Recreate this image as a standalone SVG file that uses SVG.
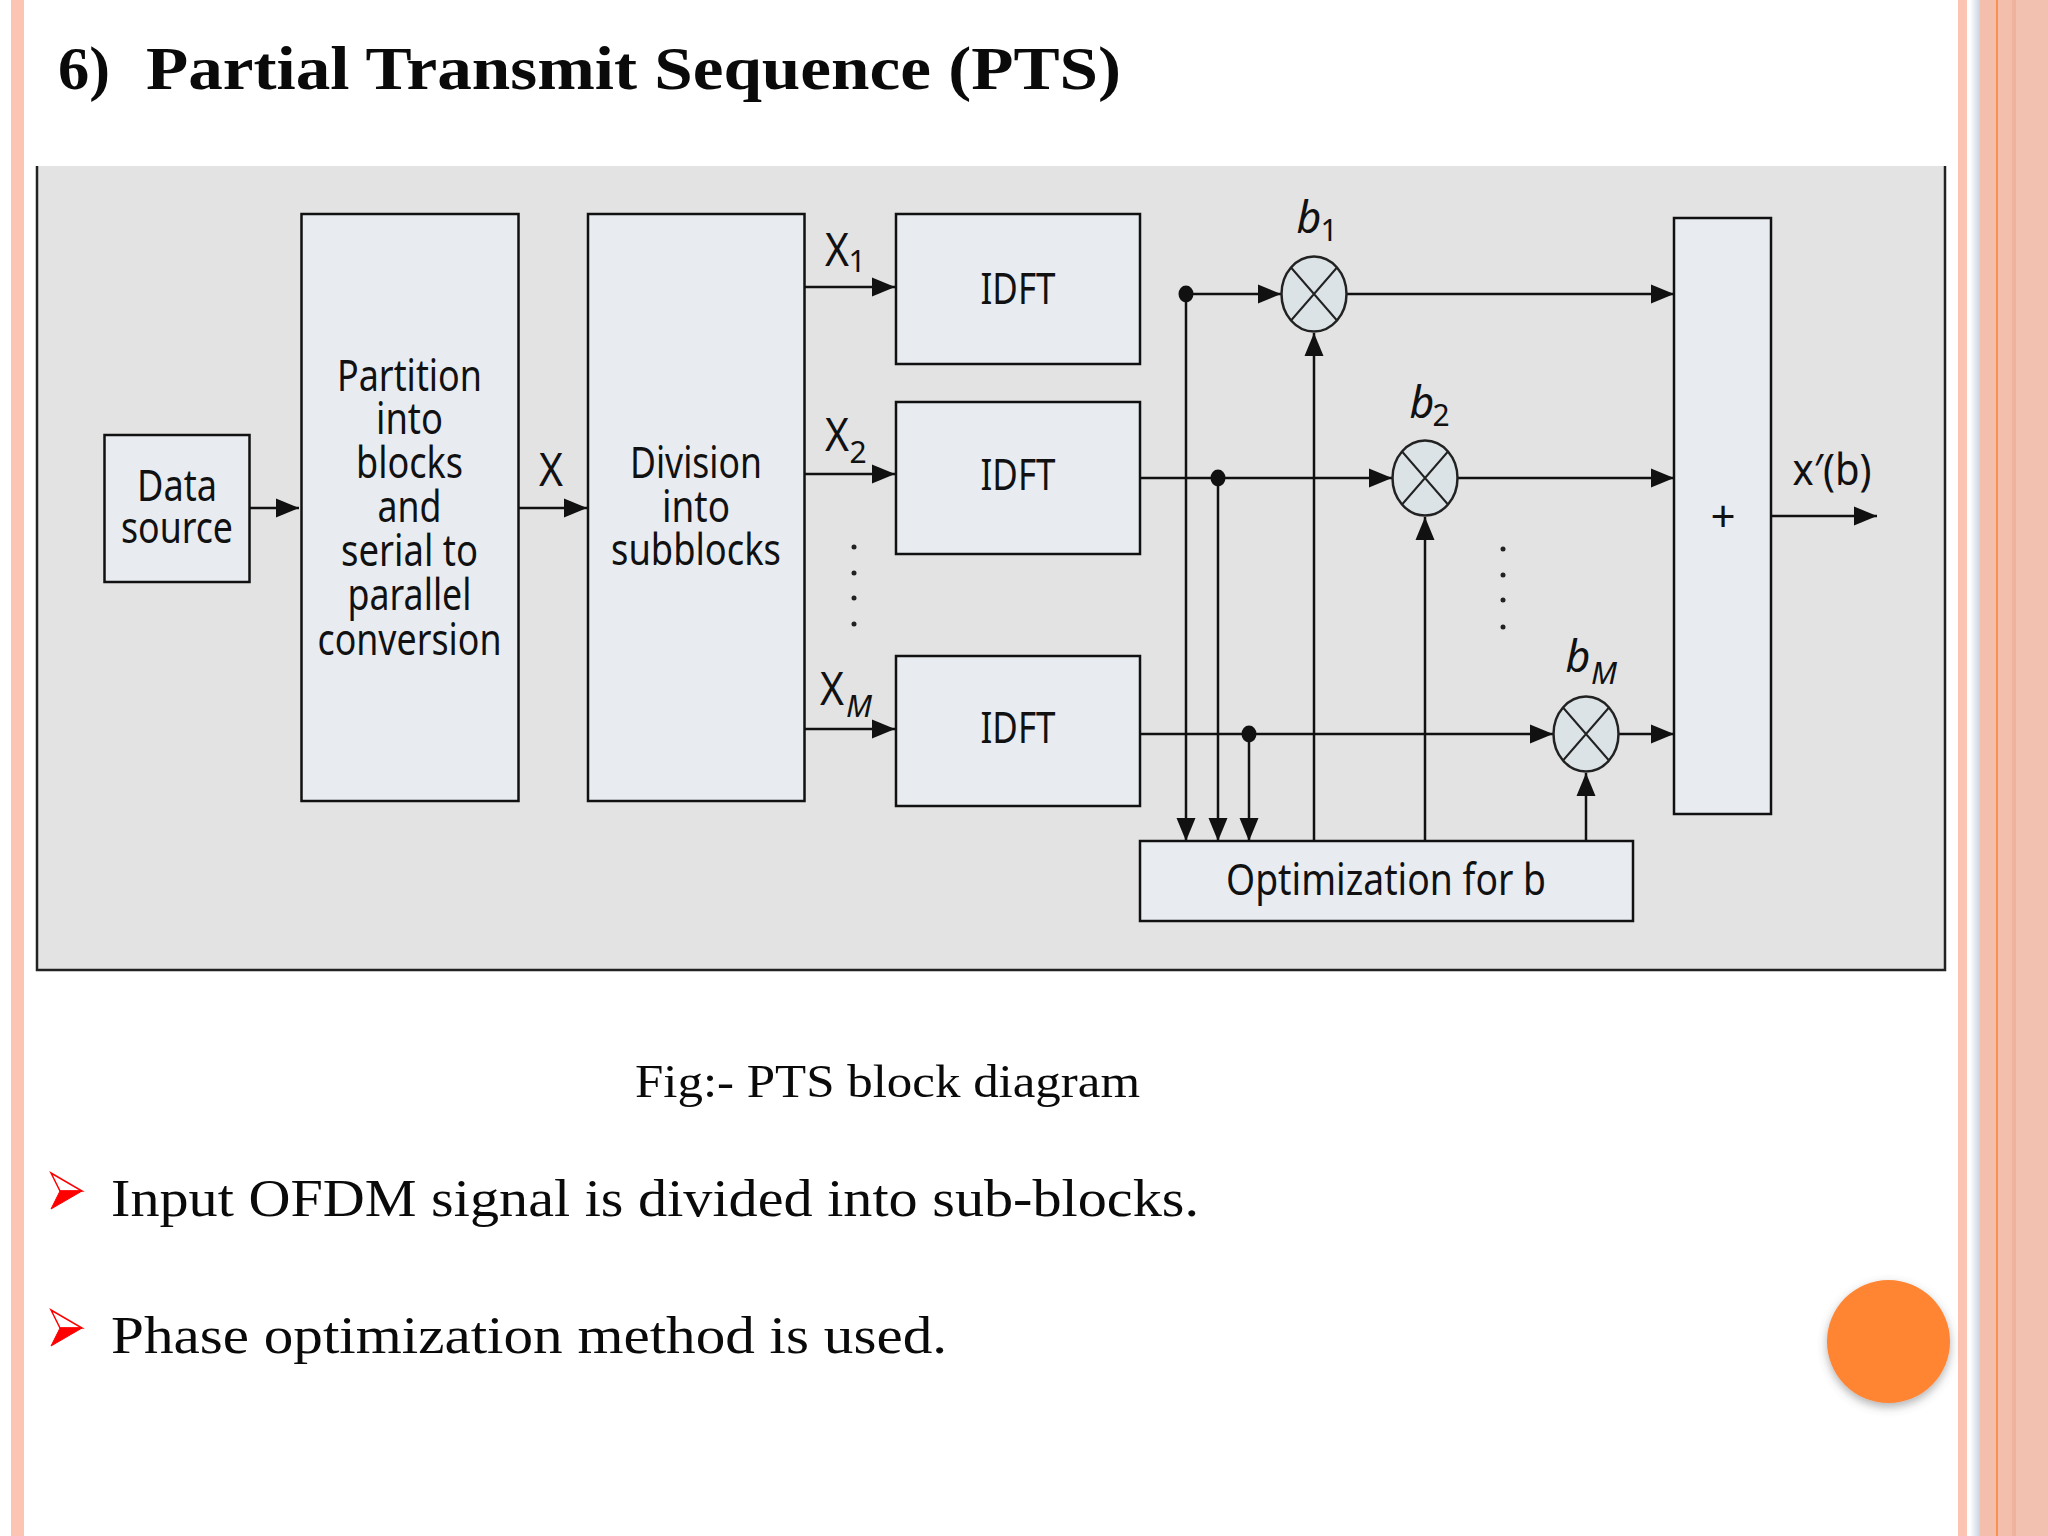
<svg xmlns="http://www.w3.org/2000/svg" width="2048" height="1536" viewBox="0 0 2048 1536">
<style>
.box{fill:#e8ecf1;stroke:#111;stroke-width:2.5}
.lbl{font-family:"Noto Sans","Liberation Sans",sans-serif;font-size:43px;fill:#111;text-anchor:middle}
.it{font-style:italic}
.sub{font-size:30px}
.ser{font-family:"Liberation Serif",serif;fill:#0a0a0a}
.ln{fill:none;stroke:#111;stroke-width:2.5}
.arr{marker-end:url(#ah)}
.mul{fill:#dbe3e6;stroke:#222;stroke-width:2.5}
.x{stroke:#222;stroke-width:2;fill:none}
</style>
<defs>
<marker id="ah" markerUnits="userSpaceOnUse" markerWidth="24" markerHeight="22" refX="23" refY="11" orient="auto"><path d="M0 1.5L23 11L0 20.5Z" fill="#111"/></marker>
<filter id="sh" x="-20%" y="-20%" width="140%" height="140%"><feDropShadow dx="0" dy="4" stdDeviation="5" flood-color="#555" flood-opacity=".45"/></filter>
<linearGradient id="edge" x1="0" x2="1" y1="0" y2="0"><stop offset="0" stop-color="#fff"/><stop offset="1" stop-color="#c9d3e2"/></linearGradient>
</defs>
<rect width="2048" height="1536" fill="#fff"/>
<g id="frame">
<rect x="11" y="0" width="13" height="1536" fill="#fcc4b3"/>
<rect x="1958" y="0" width="9" height="1536" fill="#fcc4b3"/>
<rect x="1970" y="0" width="10" height="1536" fill="url(#edge)"/>
<rect x="1980" y="0" width="68" height="1536" fill="#f3bfac"/>
<rect x="1996" y="0" width="2" height="1536" fill="#fb8f4e"/>
<rect x="2012" y="0" width="4" height="1536" fill="#efb29c"/>
<rect x="2016" y="0" width="32" height="1536" fill="#f2c1b0"/>
</g>
<g id="title" class="ser" font-weight="700" font-size="62">
<text x="58" y="89" textLength="52" lengthAdjust="spacingAndGlyphs">6)</text>
<text x="146" y="89" textLength="975" lengthAdjust="spacingAndGlyphs">Partial Transmit Sequence (PTS)</text>
</g>
<rect id="panel" x="37" y="166" width="1908" height="804" fill="#e3e3e3"/>
<path d="M37 166V970H1945V166" fill="none" stroke="#222" stroke-width="2.5"/>
<g id="connectors">
<path class="ln arr" d="M249 508H299"/>
<path class="ln arr" d="M518 508H587"/>
<path class="ln arr" d="M804 287H895"/>
<path class="ln arr" d="M804 474H895"/>
<path class="ln arr" d="M804 729H895"/>
<path class="ln arr" d="M1186 294H1281"/>
<path class="ln arr" d="M1347 294H1674"/>
<path class="ln arr" d="M1140 478H1392"/>
<path class="ln arr" d="M1458 478H1674"/>
<path class="ln arr" d="M1140 734H1553"/>
<path class="ln arr" d="M1619 734H1674"/>
<path class="ln arr" d="M1771 516H1877"/>
<path class="ln arr" d="M1186 294V841"/>
<path class="ln arr" d="M1218 478V841"/>
<path class="ln arr" d="M1249 734V841"/>
<path class="ln arr" d="M1314 841V333"/>
<path class="ln arr" d="M1425 841V517"/>
<path class="ln arr" d="M1586 841V773"/>
<ellipse cx="1186" cy="294" rx="7.5" ry="8.5" fill="#111"/>
<ellipse cx="1218" cy="478" rx="7.5" ry="8.5" fill="#111"/>
<ellipse cx="1249" cy="734" rx="7.5" ry="8.5" fill="#111"/>
</g>
<g id="data-source"><rect class="box" x="104.500" y="435" width="145" height="147"/>
<text class="lbl" x="177" y="501" textLength="80" lengthAdjust="spacingAndGlyphs">Data</text>
<text class="lbl" x="177" y="543" textLength="112" lengthAdjust="spacingAndGlyphs">source</text></g>
<g id="partition"><rect class="box" x="301.500" y="214" width="217" height="587"/>
<text class="lbl" x="409.500" y="391" textLength="145" lengthAdjust="spacingAndGlyphs">Partition</text>
<text class="lbl" x="409.500" y="434" textLength="67" lengthAdjust="spacingAndGlyphs">into</text>
<text class="lbl" x="409.500" y="478" textLength="107" lengthAdjust="spacingAndGlyphs">blocks</text>
<text class="lbl" x="409.500" y="522" textLength="64" lengthAdjust="spacingAndGlyphs">and</text>
<text class="lbl" x="409.500" y="566" textLength="137" lengthAdjust="spacingAndGlyphs">serial to</text>
<text class="lbl" x="409.500" y="610" textLength="124" lengthAdjust="spacingAndGlyphs">parallel</text>
<text class="lbl" x="409.500" y="655" textLength="184" lengthAdjust="spacingAndGlyphs">conversion</text></g>
<g id="division"><rect class="box" x="588" y="214" width="216.500" height="587"/>
<text class="lbl" x="696" y="478" textLength="132" lengthAdjust="spacingAndGlyphs">Division</text>
<text class="lbl" x="696" y="522" textLength="68" lengthAdjust="spacingAndGlyphs">into</text>
<text class="lbl" x="696" y="565" textLength="170" lengthAdjust="spacingAndGlyphs">subblocks</text></g>
<g id="idft-1"><rect class="box" x="896" y="214" width="244" height="150"/>
<text class="lbl" x="1018" y="304" textLength="75" lengthAdjust="spacingAndGlyphs">IDFT</text></g>
<g id="idft-2"><rect class="box" x="896" y="402" width="244" height="152"/>
<text class="lbl" x="1018" y="490" textLength="75" lengthAdjust="spacingAndGlyphs">IDFT</text></g>
<g id="idft-m"><rect class="box" x="896" y="656" width="244" height="150"/>
<text class="lbl" x="1018" y="743" textLength="75" lengthAdjust="spacingAndGlyphs">IDFT</text></g>
<g id="mul-1"><ellipse class="mul" cx="1314" cy="294" rx="32.500" ry="37.500"/><path class="x" d="M1291 267.500L1337 320.500M1337 267.500L1291 320.500"/></g>
<g id="mul-2"><ellipse class="mul" cx="1425" cy="478" rx="32.500" ry="37.500"/><path class="x" d="M1402 451.500L1448 504.500M1448 451.500L1402 504.500"/></g>
<g id="mul-m"><ellipse class="mul" cx="1586" cy="734" rx="32.500" ry="37.500"/><path class="x" d="M1563 707.500L1609 760.500M1609 707.500L1563 760.500"/></g>
<g id="sum"><rect class="box" x="1674" y="218" width="97" height="596"/>
<text class="lbl" x="1723" y="532" style="font-size:44px">+</text></g>
<g id="optimization"><rect class="box" x="1140" y="841" width="493" height="80"/>
<text class="lbl" x="1386" y="895" textLength="320" lengthAdjust="spacingAndGlyphs">Optimization for b</text></g>
<g id="labels">
<text class="lbl" x="551" y="486" textLength="24" lengthAdjust="spacingAndGlyphs" style="font-size:46px">X</text>
<text class="lbl" x="837" y="266" textLength="24" lengthAdjust="spacingAndGlyphs" style="font-size:46px">X</text>
<text class="lbl sub" x="857" y="272">1</text>
<text class="lbl" x="837" y="451" textLength="24" lengthAdjust="spacingAndGlyphs" style="font-size:46px">X</text>
<text class="lbl sub" x="858" y="463">2</text>
<text class="lbl" x="832" y="705" textLength="24" lengthAdjust="spacingAndGlyphs" style="font-size:46px">X</text>
<text class="lbl sub it" x="859" y="717" textLength="26" lengthAdjust="spacingAndGlyphs">M</text>
<text class="lbl it" x="1309" y="233">b</text>
<text class="lbl sub" x="1329" y="241">1</text>
<text class="lbl it" x="1422" y="418">b</text>
<text class="lbl sub" x="1441" y="426">2</text>
<text class="lbl it" x="1578" y="672">b</text>
<text class="lbl sub it" x="1604" y="684" textLength="26" lengthAdjust="spacingAndGlyphs">M</text>
<text class="lbl" x="1832" y="485" textLength="79" lengthAdjust="spacingAndGlyphs">x′(b)</text>
</g>
<g id="ellipsis" fill="#222">
<circle cx="854" cy="547" r="2.500"/><circle cx="854" cy="573" r="2.500"/><circle cx="854" cy="598" r="2.500"/><circle cx="854" cy="624" r="2.500"/>
<circle cx="1503" cy="549" r="2.500"/><circle cx="1503" cy="575" r="2.500"/><circle cx="1503" cy="600" r="2.500"/><circle cx="1503" cy="627" r="2.500"/>
</g>
<text id="caption" class="ser" x="635" y="1097" font-size="47" textLength="505" lengthAdjust="spacingAndGlyphs">Fig:- PTS block diagram</text>
<g id="bullet-1">
<path d="M51 1173L82 1191H60Z" fill="#fff" stroke="#f00" stroke-width="1.500"/><path d="M51 1209L82 1191H60Z" fill="#f00" stroke="#f00" stroke-width="1"/>
<text class="ser" x="111" y="1216" font-size="53" textLength="1088" lengthAdjust="spacingAndGlyphs">Input OFDM signal is divided into sub-blocks.</text>
</g>
<g id="bullet-2">
<path d="M51 1310L82 1328H60Z" fill="#fff" stroke="#f00" stroke-width="1.500"/><path d="M51 1346L82 1328H60Z" fill="#f00" stroke="#f00" stroke-width="1"/>
<text class="ser" x="111" y="1353" font-size="53" textLength="836" lengthAdjust="spacingAndGlyphs">Phase optimization method is used.</text>
</g>
<circle id="orange-dot" cx="1888.500" cy="1341.500" r="61.500" fill="#ff8533" filter="url(#sh)"/>
</svg>
